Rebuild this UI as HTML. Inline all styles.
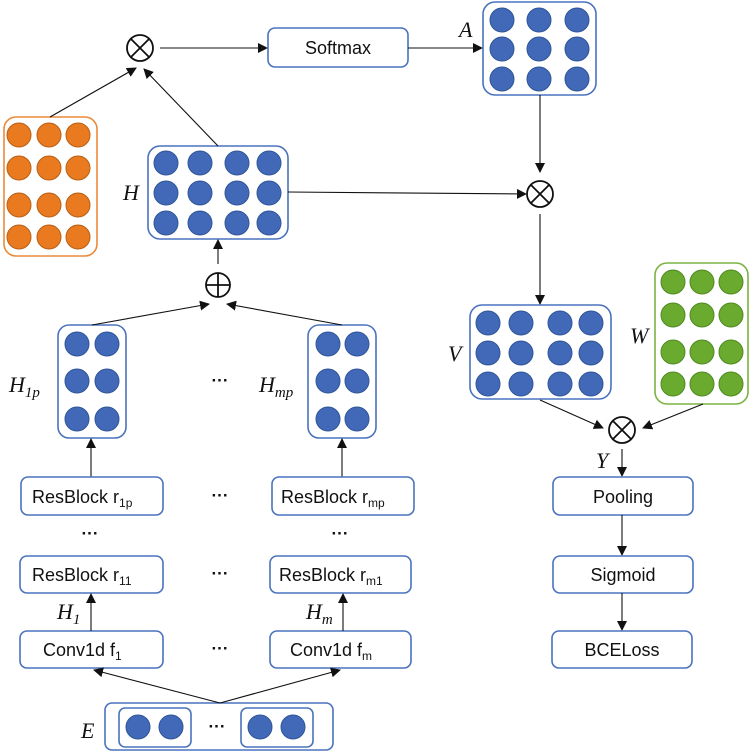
<!DOCTYPE html>
<html><head><meta charset="utf-8"><style>
html,body{margin:0;padding:0;background:#fff;}
svg{display:block;}
.t{font-family:"Liberation Sans",sans-serif;font-size:18px;fill:#111;}
.s{font-size:12px;}
.m{font-family:"Liberation Serif",serif;font-style:italic;font-size:22px;fill:#111;}
.ms{font-family:"Liberation Serif",serif;font-style:italic;font-size:15px;}
.b{fill:#fff;stroke:#4a72bd;stroke-width:1.6;}
.bc{fill:#4169b8;stroke:#2f5597;stroke-width:1;}
.oc{fill:#ea7a1f;stroke:#b85f15;stroke-width:1;}
.gc{fill:#6aaa2e;stroke:#4f8a20;stroke-width:1;}
.l{stroke:#111;stroke-width:1.1;fill:none;}
.d{font-family:"Liberation Sans",sans-serif;font-size:17px;font-weight:bold;fill:#111;}
</style></head><body>
<svg width="755" height="755" viewBox="0 0 755 755" xmlns="http://www.w3.org/2000/svg">
<defs><marker id="a" markerWidth="10" markerHeight="10" refX="9" refY="5" orient="auto" markerUnits="userSpaceOnUse"><path d="M0,0 L10,5 L0,10 z" fill="#111"/></marker></defs>

<circle cx="140" cy="48" r="13" fill="none" stroke="#111" stroke-width="1.8"/>
<path d="M131,39 L149,57 M149,39 L131,57" stroke="#111" stroke-width="1.8"/>
<line class="l" x1="160" y1="48" x2="267" y2="48" marker-end="url(#a)"/>
<rect class="b" x="268" y="28" width="140" height="39" rx="7"/>
<text class="t" x="338" y="54" text-anchor="middle">Softmax</text>
<line class="l" x1="408" y1="48" x2="482" y2="48" marker-end="url(#a)"/>
<text class="m" x="459" y="37">A</text>
<rect class="b" x="483" y="2" width="113" height="93" rx="12"/>
<g class="bc"><circle cx="502" cy="20" r="12"/><circle cx="539" cy="20" r="12"/><circle cx="577" cy="20" r="12"/>
<circle cx="502" cy="49" r="12"/><circle cx="539" cy="49" r="12"/><circle cx="577" cy="49" r="12"/>
<circle cx="502" cy="79" r="12"/><circle cx="539" cy="79" r="12"/><circle cx="577" cy="79" r="12"/></g>

<rect x="4" y="117" width="93" height="139" rx="12" fill="#fff" stroke="#eb8a3a" stroke-width="1.6"/>
<g class="oc">
<circle cx="19" cy="135" r="12"/><circle cx="49" cy="135" r="12"/><circle cx="78" cy="135" r="12"/>
<circle cx="19" cy="168" r="12"/><circle cx="49" cy="168" r="12"/><circle cx="78" cy="168" r="12"/>
<circle cx="19" cy="205" r="12"/><circle cx="49" cy="205" r="12"/><circle cx="78" cy="205" r="12"/>
<circle cx="19" cy="237" r="12"/><circle cx="49" cy="237" r="12"/><circle cx="78" cy="237" r="12"/></g>
<line class="l" x1="50" y1="117" x2="136" y2="68" marker-end="url(#a)"/>

<rect class="b" x="148" y="146" width="140" height="93" rx="12"/>
<g class="bc">
<circle cx="166" cy="163" r="12"/><circle cx="200" cy="163" r="12"/><circle cx="237" cy="163" r="12"/><circle cx="269" cy="163" r="12"/>
<circle cx="166" cy="193" r="12"/><circle cx="200" cy="193" r="12"/><circle cx="237" cy="193" r="12"/><circle cx="269" cy="193" r="12"/>
<circle cx="166" cy="223" r="12"/><circle cx="200" cy="223" r="12"/><circle cx="237" cy="223" r="12"/><circle cx="269" cy="223" r="12"/></g>
<text class="m" x="123" y="200">H</text>
<line class="l" x1="218" y1="146" x2="144" y2="69" marker-end="url(#a)"/>
<line class="l" x1="288" y1="192" x2="526" y2="194" marker-end="url(#a)"/>

<circle cx="218" cy="285" r="12" fill="none" stroke="#111" stroke-width="1.8"/>
<path d="M206,285 L230,285 M218,273 L218,297" stroke="#111" stroke-width="1.8"/>
<line class="l" x1="218" y1="264" x2="218" y2="240" marker-end="url(#a)"/>

<rect class="b" x="58" y="325" width="68" height="113" rx="11"/>
<rect class="b" x="308" y="325" width="68" height="113" rx="11"/>
<g class="bc">
<circle cx="77" cy="344" r="12"/><circle cx="107" cy="344" r="12"/>
<circle cx="77" cy="381" r="12"/><circle cx="107" cy="381" r="12"/>
<circle cx="77" cy="419" r="12"/><circle cx="107" cy="419" r="12"/>
<circle cx="328" cy="344" r="12"/><circle cx="357" cy="344" r="12"/>
<circle cx="328" cy="381" r="12"/><circle cx="357" cy="381" r="12"/>
<circle cx="328" cy="419" r="12"/><circle cx="357" cy="419" r="12"/></g>
<text class="m" x="9" y="392">H<tspan class="ms" dy="5">1p</tspan></text>
<text class="m" x="259" y="392">H<tspan class="ms" dy="5">mp</tspan></text>
<text class="d" x="220" y="386" text-anchor="middle">···</text>
<line class="l" x1="92" y1="325" x2="209" y2="304" marker-end="url(#a)"/>
<line class="l" x1="342" y1="325" x2="227" y2="304" marker-end="url(#a)"/>
<line class="l" x1="91" y1="477" x2="91" y2="439" marker-end="url(#a)"/>
<line class="l" x1="342" y1="477" x2="342" y2="439" marker-end="url(#a)"/>

<rect class="b" x="21" y="477" width="142" height="38" rx="7"/>
<text class="t" x="32" y="503">ResBlock r<tspan class="s" dy="4">1p</tspan></text>
<rect class="b" x="272" y="477" width="142" height="38" rx="7"/>
<text class="t" x="281" y="503">ResBlock r<tspan class="s" dy="4">mp</tspan></text>
<text class="d" x="90" y="539" text-anchor="middle">···</text>
<text class="d" x="340" y="539" text-anchor="middle">···</text>
<rect class="b" x="20" y="556" width="143" height="37" rx="7"/>
<text class="t" x="32" y="581">ResBlock r<tspan class="s" dy="4">11</tspan></text>
<rect class="b" x="270" y="556" width="141" height="37" rx="7"/>
<text class="t" x="279" y="581">ResBlock r<tspan class="s" dy="4">m1</tspan></text>
<rect class="b" x="20" y="631" width="143" height="37" rx="7"/>
<text class="t" x="43" y="656">Conv1d f<tspan class="s" dy="4">1</tspan></text>
<rect class="b" x="270" y="631" width="141" height="37" rx="7"/>
<text class="t" x="290" y="656">Conv1d f<tspan class="s" dy="4">m</tspan></text>
<text class="d" x="220" y="501" text-anchor="middle">···</text>
<text class="d" x="220" y="579" text-anchor="middle">···</text>
<text class="d" x="220" y="654" text-anchor="middle">···</text>
<line class="l" x1="91" y1="631" x2="91" y2="594" marker-end="url(#a)"/>
<line class="l" x1="343" y1="631" x2="343" y2="594" marker-end="url(#a)"/>
<text class="m" x="57" y="619">H<tspan class="ms" dy="5">1</tspan></text>
<text class="m" x="306" y="619">H<tspan class="ms" dy="5">m</tspan></text>

<rect class="b" x="105" y="703" width="228" height="47" rx="7"/>
<rect class="b" x="119" y="708" width="72" height="39" rx="6"/>
<rect class="b" x="241" y="708" width="72" height="39" rx="6"/>
<g class="bc"><circle cx="138" cy="727" r="12"/><circle cx="171" cy="727" r="12"/><circle cx="260" cy="727" r="12"/><circle cx="293" cy="727" r="12"/></g>
<text class="d" x="217" y="732" text-anchor="middle">···</text>
<text class="m" x="81" y="738">E</text>
<line class="l" x1="220" y1="703" x2="94" y2="670" marker-end="url(#a)"/>
<line class="l" x1="220" y1="703" x2="340" y2="670" marker-end="url(#a)"/>

<line class="l" x1="540" y1="95" x2="540" y2="172" marker-end="url(#a)"/>
<circle cx="540" cy="194" r="13" fill="none" stroke="#111" stroke-width="1.8"/>
<path d="M531,185 L549,203 M549,185 L531,203" stroke="#111" stroke-width="1.8"/>
<line class="l" x1="540" y1="214" x2="540" y2="304" marker-end="url(#a)"/>
<rect class="b" x="470" y="305" width="141" height="94" rx="12"/>
<g class="bc">
<circle cx="488" cy="323" r="12"/><circle cx="521" cy="323" r="12"/><circle cx="560" cy="323" r="12"/><circle cx="591" cy="323" r="12"/>
<circle cx="488" cy="353" r="12"/><circle cx="521" cy="353" r="12"/><circle cx="560" cy="353" r="12"/><circle cx="591" cy="353" r="12"/>
<circle cx="488" cy="384" r="12"/><circle cx="521" cy="384" r="12"/><circle cx="560" cy="384" r="12"/><circle cx="591" cy="384" r="12"/></g>
<text class="m" x="448" y="361">V</text>
<rect x="655" y="263" width="93" height="141" rx="12" fill="#fff" stroke="#7cb342" stroke-width="1.6"/>
<g class="gc">
<circle cx="673" cy="282" r="12"/><circle cx="702" cy="282" r="12"/><circle cx="731" cy="282" r="12"/>
<circle cx="673" cy="315" r="12"/><circle cx="702" cy="315" r="12"/><circle cx="731" cy="315" r="12"/>
<circle cx="673" cy="352" r="12"/><circle cx="702" cy="352" r="12"/><circle cx="731" cy="352" r="12"/>
<circle cx="673" cy="384" r="12"/><circle cx="702" cy="384" r="12"/><circle cx="731" cy="384" r="12"/></g>
<text class="m" x="630" y="343">W</text>
<circle cx="622" cy="430" r="13" fill="none" stroke="#111" stroke-width="1.8"/>
<path d="M613,421 L631,439 M631,421 L613,439" stroke="#111" stroke-width="1.8"/>
<line class="l" x1="540" y1="400" x2="603" y2="428" marker-end="url(#a)"/>
<line class="l" x1="703" y1="404" x2="643" y2="428" marker-end="url(#a)"/>
<text class="m" x="596" y="468">Y</text>
<line class="l" x1="622" y1="449" x2="622" y2="476" marker-end="url(#a)"/>
<rect class="b" x="553" y="477" width="140" height="38" rx="7"/>
<text class="t" x="623" y="503" text-anchor="middle">Pooling</text>
<line class="l" x1="622" y1="515" x2="622" y2="555" marker-end="url(#a)"/>
<rect class="b" x="553" y="556" width="140" height="37" rx="7"/>
<text class="t" x="623" y="581" text-anchor="middle">Sigmoid</text>
<line class="l" x1="622" y1="593" x2="622" y2="630" marker-end="url(#a)"/>
<rect class="b" x="552" y="631" width="140" height="37" rx="7"/>
<text class="t" x="622" y="656" text-anchor="middle">BCELoss</text>
</svg>
</body></html>
